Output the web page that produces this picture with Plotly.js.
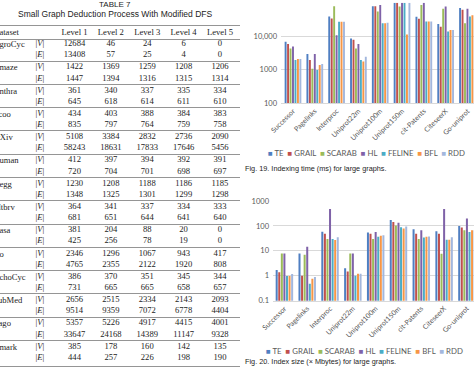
<!DOCTYPE html>
<html>
<head>
<meta charset="utf-8">
<script src="https://cdn.plot.ly/plotly-3.0.1.min.js"></script>
<style>
  html, body { margin: 0; padding: 0; background: #ffffff; overflow: hidden; width: 474px; height: 370px; }
  #chart { position: absolute; left: -12px; top: 0; width: 486px; height: 370px; }
</style>
</head>
<body>
<div id="chart"></div>
<script>
// ---------------- Chart data (Fig. 19 / Fig. 20) ----------------
const categories = ['Successor', 'Pagelinks', 'Interproc', 'Uniprot22m', 'Uniprot100m',
                    'Uniprot150m', 'cit-Patents', 'CiteseerX', 'Go-uniprot'];
const seriesNames = ['TE', 'GRAIL', 'SCARAB', 'HL', 'FELINE', 'BFL', 'RDD'];
const seriesColors = ['#4F7FC2', '#C0504D', '#9BBB59', '#7F62A8', '#4BACC6', '#F79646', '#A3B7DD'];

// Indexing time (ms)
const timeTE     = [6800, 2950, 39000, 8500, 79000, 100000, 38000, 23000, 69500];
const timeGRAIL  = [5900, 1950, 34000, 7800, 79000, 100000, 33000, 19300, 62000];
const timeSCARAB = [4300, 1070, 78000, 4300, 55000, 77000, 86000, 66000, 24300];
const timeHL     = [4900, 2950, 10700, 5900, 86000, 100000, 100000, 77000, 66000];
const timeFELINE = [1950, 980, 27000, 1950, 24400, 100000, 27500, 13800, 38500];
const timeBFL    = [2100, 1380, 27000, 1750, 24200, 11300, 27500, 15400, 42000];
const timeRDD    = [2100, 1480, 27000, 2450, 25300, 100000, 27500, 15400, 42000];

// Index size (x Mbytes)
const sizeTE     = [1.7, 7.8, 59, 2.0, 54, 174, 73, 61, 100];
const sizeGRAIL  = [1.4, 1.0, 49, 1.5, 48, 145, 48, 49, 86];
const sizeSCARAB = [7.8, 7.0, 30, 7.8, 30, 103, 30, 7.6, 67];
const sizeHL     = [7.8, 14.5, 480, 7.8, 57, 135, 67, 480, 200];
const sizeFELINE = [0.97, 0.48, 30, 1.0, 37, 88, 34, 28, 57];
const sizeBFL    = [0.97, 0.76, 27, 1.2, 40, 78, 37, 28, 67];
const sizeRDD    = [1.17, 0.9, 35, 1.2, 42, 94, 38, 35, 67];

// ---------------- Table 7 data ----------------
const tableTitle = 'TABLE 7';
const tableSubtitle = 'Small Graph Deduction Process With Modified DFS';
const datasetHeader = 'Dataset';
const levelLabels = ['Level 1', 'Level 2', 'Level 3', 'Level 4', 'Level 5'];
const datasetNames = ['AgroCyc', 'Amaze', 'Anthra', 'Ecoo', 'arXiv', 'Human', 'Kegg',
                      'Mtbrv', 'Nasa', 'Go', 'VchoCyc', 'PubMed', 'Yago', 'Xmark'];
const vLevel1 = [12684, 1422, 361, 434, 5108, 412, 1230, 364, 381, 2346, 386, 2656, 5357, 385];
const vLevel2 = [46, 1369, 340, 403, 3384, 397, 1208, 341, 204, 1296, 370, 2515, 5226, 178];
const vLevel3 = [24, 1259, 337, 388, 2832, 394, 1188, 337, 88, 1067, 351, 2334, 4917, 160];
const vLevel4 = [6, 1208, 335, 384, 2736, 392, 1186, 334, 20, 943, 345, 2143, 4415, 142];
const vLevel5 = [0, 1206, 334, 383, 2090, 391, 1185, 333, 0, 417, 344, 2093, 4001, 135];
const eLevel1 = [13408, 1447, 645, 835, 58243, 720, 1348, 681, 425, 4765, 731, 9514, 33647, 444];
const eLevel2 = [57, 1394, 618, 797, 18631, 704, 1325, 651, 256, 2355, 665, 9359, 24168, 257];
const eLevel3 = [25, 1316, 614, 764, 17833, 701, 1301, 644, 78, 2122, 665, 7072, 14389, 226];
const eLevel4 = [4, 1315, 611, 759, 17646, 698, 1299, 641, 19, 1920, 658, 6778, 11147, 198];
const eLevel5 = [0, 1314, 610, 758, 5456, 697, 1298, 640, 0, 808, 657, 4404, 9328, 190];

const captionTime = 'Fig. 19. Indexing time (ms) for large graphs.';
const captionSize = 'Fig. 20. Index size (\u00d7 Mbytes) for large graphs.';

// ---------------- Build traces ----------------
const timeSeries = [timeTE, timeGRAIL, timeSCARAB, timeHL, timeFELINE, timeBFL, timeRDD];
const sizeSeries = [sizeTE, sizeGRAIL, sizeSCARAB, sizeHL, sizeFELINE, sizeBFL, sizeRDD];
const vLevels = [vLevel1, vLevel2, vLevel3, vLevel4, vLevel5];
const eLevels = [eLevel1, eLevel2, eLevel3, eLevel4, eLevel5];

const traces = [];
seriesNames.forEach(function (name, k) {
  traces.push({
    type: 'bar', name: name, x: categories, y: timeSeries[k],
    xaxis: 'x', yaxis: 'y', marker: { color: seriesColors[k] },
    showlegend: false, hoverinfo: 'skip'
  });
});
seriesNames.forEach(function (name, k) {
  traces.push({
    type: 'bar', name: name, x: categories, y: sizeSeries[k],
    xaxis: 'x2', yaxis: 'y2', marker: { color: seriesColors[k] },
    showlegend: false, hoverinfo: 'skip'
  });
});

// table drawn as text on a hidden axis pair (x3/y3): x = column, y = row
const serifFont = { family: 'Liberation Serif, Times New Roman, serif', size: 8.6, color: '#1c1c1c' };
const nameCol = -1.235, veCol = 0.05, rowHeader = -0.70, nameOff = -0.2;
const rowIdx = datasetNames.map(function (_, i) { return i; });

function textTrace(xs, ys, texts, pos) {
  return {
    type: 'scatter', mode: 'text', x: xs, y: ys, text: texts,
    textposition: pos || 'middle center', textfont: serifFont,
    xaxis: 'x3', yaxis: 'y3', cliponaxis: false, showlegend: false, hoverinfo: 'skip'
  };
}
// header
traces.push(textTrace([nameCol], [rowHeader], [datasetHeader], 'middle right'));
traces.push(textTrace(levelLabels.map(function (_, j) { return j + 1; }),
                      levelLabels.map(function () { return rowHeader; }), levelLabels));
// dataset names (on the |V| line)
traces.push(textTrace(rowIdx.map(function () { return nameCol; }),
                      rowIdx.map(function (i) { return i + nameOff; }), datasetNames, 'middle right'));
// |V| / |E| labels
traces.push(textTrace(rowIdx.map(function () { return veCol; }), rowIdx,
                      rowIdx.map(function () { return '|<i>V</i>|<br>|<i>E</i>|'; })));
// level values: |V| over |E|
vLevels.forEach(function (vals, j) {
  traces.push(textTrace(rowIdx.map(function () { return j + 1; }), rowIdx,
                        vals.map(function (v, i) { return v + '<br>' + eLevels[j][i]; })));
});

// ---------------- Layout ----------------
const OX = 12;                 // figure is shifted 12px left of the window (left edge cropped)
const W = 474 + OX, H = 370;
function px(x) { return (x + OX) / W; }
function py(y) { return 1 - y / H; }

const tickFont = { family: 'Lato, Carlito, Calibri, sans-serif', size: 7.5, color: '#595959' };
const catFont = { family: 'Lato, Carlito, Calibri, sans-serif', size: 7, color: '#595959' };
const gridCol = '#d9d9d9';

const legendText = seriesNames.map(function (n, k) {
  return '<span style="color:' + seriesColors[k] + '">\u25A0</span> ' + n;
}).join('  ');

const ruleVals = [-1.01, -0.41].concat(rowIdx.slice(0, -1).map(function (i) { return i + 0.5; })).concat([13.6]);

const layout = {
  width: W, height: H,
  margin: { l: 0, r: 0, t: 0, b: 0, pad: 0 },
  paper_bgcolor: '#ffffff', plot_bgcolor: 'rgba(0,0,0,0)',
  barmode: 'group', bargap: 0.21, bargroupgap: 0.22,
  showlegend: false,
  font: { family: 'Lato, sans-serif', color: '#595959' },
  xaxis: {
    domain: [px(281), 1], anchor: 'y', type: 'category',
    range: [-0.55, 8.30], tickangle: -45, tickfont: catFont,
    showgrid: false, zeroline: false, showline: true, linecolor: gridCol, linewidth: 1,
    ticks: '', fixedrange: true
  },
  yaxis: {
    domain: [py(103.3), py(2.7)], anchor: 'x', type: 'log',
    range: [2, 5], dtick: 1, exponentformat: 'none', tickfont: tickFont,
    showgrid: true, gridcolor: gridCol, gridwidth: 1, zeroline: false, showline: false,
    ticks: '', ticklabelstandoff: 3, fixedrange: true
  },
  xaxis2: {
    domain: [px(273), 1], anchor: 'y2', type: 'category',
    range: [-0.50, 8.31], tickangle: -45, tickfont: catFont,
    showgrid: false, zeroline: false, showline: true, linecolor: gridCol, linewidth: 1,
    ticks: '', fixedrange: true
  },
  yaxis2: {
    domain: [py(300.7), py(201)], anchor: 'x2', type: 'log',
    range: [-1, 3], dtick: 1, exponentformat: 'none', tickfont: tickFont,
    showgrid: true, gridcolor: gridCol, gridwidth: 1, zeroline: false, showline: false,
    ticks: '', ticklabelstandoff: 3, fixedrange: true
  },
  xaxis3: {
    domain: [0, px(240)], anchor: 'y3', range: [-1.378, 5.55],
    showgrid: false, zeroline: false, showline: false, showticklabels: false, ticks: '', fixedrange: true
  },
  yaxis3: {
    domain: [0, 1], anchor: 'x3', range: [13.767, -2.126],
    tickmode: 'array', tickvals: ruleVals, showticklabels: false, ticks: '',
    showgrid: true, gridcolor: '#7a7a7a', gridwidth: 0.8, zeroline: false, showline: false, fixedrange: true
  },
  annotations: [
    { text: tableTitle, xref: 'paper', yref: 'paper', x: px(115), y: py(4.5),
      xanchor: 'center', yanchor: 'middle', showarrow: false,
      font: { family: 'Liberation Sans, Arial, sans-serif', size: 8, color: '#1c1c1c' } },
    { text: tableSubtitle, xref: 'paper', yref: 'paper', x: px(115), y: py(14),
      xanchor: 'center', yanchor: 'middle', showarrow: false,
      font: { family: 'Liberation Sans, Arial, sans-serif', size: 8.5, color: '#1c1c1c' } },
    { text: legendText, xref: 'paper', yref: 'paper', x: px(366), y: py(153.3),
      xanchor: 'center', yanchor: 'middle', showarrow: false,
      font: { family: 'Lato, Carlito, sans-serif', size: 7.8, color: '#595959' } },
    { text: legendText, xref: 'paper', yref: 'paper', x: px(364), y: py(350.5),
      xanchor: 'center', yanchor: 'middle', showarrow: false,
      font: { family: 'Lato, Carlito, sans-serif', size: 7.8, color: '#595959' } },
    { text: captionTime, xref: 'paper', yref: 'paper', x: px(243), y: py(168.3),
      xanchor: 'left', yanchor: 'middle', showarrow: false,
      font: { family: 'Liberation Sans, Arial, sans-serif', size: 7.3, color: '#1c1c1c' } },
    { text: captionSize, xref: 'paper', yref: 'paper', x: px(243), y: py(361.5),
      xanchor: 'left', yanchor: 'middle', showarrow: false,
      font: { family: 'Liberation Sans, Arial, sans-serif', size: 7.3, color: '#1c1c1c' } }
  ]
};

Plotly.newPlot('chart', traces, layout, { staticPlot: true, displayModeBar: false });
</script>
</body>
</html>
